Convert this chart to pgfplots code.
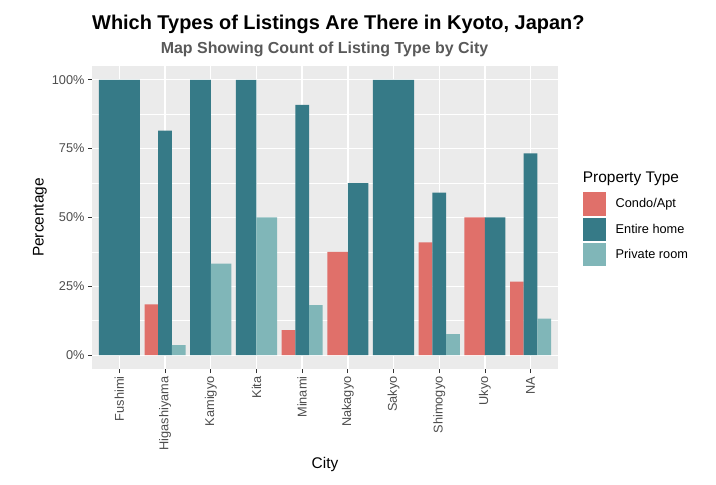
\documentclass[border=0pt]{standalone}
\usepackage{fontspec}
\setmainfont{Liberation Sans}
\usepackage{pgfplots}
\pgfplotsset{compat=1.18}
\definecolor{condo}{HTML}{E0706A}
\definecolor{entire}{HTML}{367A87}
\definecolor{private}{HTML}{80B6B8}
\definecolor{panelbg}{HTML}{EBEBEB}
\definecolor{ticktext}{HTML}{4D4D4D}
\definecolor{tickline}{HTML}{333333}
\definecolor{subgray}{HTML}{595959}

\pgfplotsset{
  sqkey/.style={legend image code/.code={%
      \fill[##1] (0bp,-11.65bp) rectangle (23.3bp,11.65bp);
      \path (33bp,0bp);}},
}

\begin{document}
\begin{tikzpicture}
\path[use as bounding box] (-92bp,-116bp) rectangle (624bp,369bp);
\begin{axis}[
    scale only axis,
    width=466bp, height=303bp,
    xmin=0.4, xmax=10.6,
    ymin=-0.05, ymax=1.05,
    axis background/.style={fill=panelbg},
    axis line style={draw=none},
    xtick={1,...,10},
    xticklabels={Fushimi,Higashiyama,Kamigyo,Kita,Minami,Nakagyo,Sakyo,Shimogyo,Ukyo,NA},
    ytick={0,0.25,0.5,0.75,1},
    yticklabels={0\%,25\%,50\%,75\%,100\%},
    minor ytick={0.125,0.375,0.625,0.875},
    xtick pos=left, ytick pos=left,
    tick align=outside,
    major tick length=4bp,
    minor tick length=0pt,
    tick style={tickline, line width=0.8bp},
    xmajorgrids, ymajorgrids, yminorgrids,
    major grid style={white, line width=1.4bp},
    minor grid style={white, line width=0.7bp},
    /pgf/number format/assume math mode=true,
    ticklabel style={font=\fontsize{12.8}{14}\selectfont, text=ticktext},
    xticklabel style={rotate=90, anchor=east},
    xlabel={City},
    ylabel={Percentage},
    every axis x label/.style={at={(axis description cs:0.5,-0.33)}, anchor=base,
      font=\fontsize{15.5}{17}\selectfont},
    every axis y label/.style={at={(axis description cs:-0.1116,0.5)}, rotate=90, anchor=center,
      font=\fontsize{15.5}{17}\selectfont},
    legend style={at={(1.053,0.583)}, anchor=north west, draw=none, fill=none,
      inner sep=0pt, outer sep=0pt, row sep=2bp,
      font=\fontsize{12.8}{14}\selectfont,
      nodes={inner sep=0pt}},
    legend cell align=left,
  ]
% Condo/Apt, three bars per city
\addplot[ybar, bar width=0.3, bar shift=-0.3, fill=condo, draw=none, sqkey]
  coordinates {(2,0.185) (5,0.0909) (8,0.410) (10,0.267)};
\addlegendentry{Condo/Apt}
% Entire home, three bars per city
\addplot[ybar, bar width=0.3, bar shift=0, fill=entire, draw=none, sqkey]
  coordinates {(2,0.815) (5,0.909) (8,0.590) (10,0.733)};
\addlegendentry{Entire home}
% Private room, three bars per city
\addplot[ybar, bar width=0.3, bar shift=0.3, fill=private, draw=none, sqkey]
  coordinates {(2,0.037) (5,0.182) (8,0.077) (10,0.133)};
\addlegendentry{Private room}
% two bars per city
\addplot[ybar, bar width=0.45, bar shift=-0.225, fill=condo, draw=none, forget plot]
  coordinates {(6,0.375) (9,0.5)};
\addplot[ybar, bar width=0.45, bar shift=0.225, fill=entire, draw=none, forget plot]
  coordinates {(6,0.625) (9,0.5)};
\addplot[ybar, bar width=0.45, bar shift=-0.225, fill=entire, draw=none, forget plot]
  coordinates {(3,1) (4,1)};
\addplot[ybar, bar width=0.45, bar shift=0.225, fill=private, draw=none, forget plot]
  coordinates {(3,0.333) (4,0.5)};
% one bar per city
\addplot[ybar, bar width=0.9, bar shift=0, fill=entire, draw=none, forget plot]
  coordinates {(1,1) (7,1)};
\end{axis}
\node[anchor=base west, inner sep=0pt, font=\fontsize{20}{24}\selectfont\bfseries]
  at (0bp,339bp) {Which Types of Listings Are There in Kyoto, Japan?};
\node[anchor=base, inner sep=0pt, text=subgray, font=\fontsize{16}{19}\selectfont\bfseries]
  at (232.5bp,315bp) {Map Showing Count of Listing Type by City};
\node[anchor=base west, inner sep=0pt, font=\fontsize{15.5}{17}\selectfont]
  at (490.7bp,186.3bp) {Property Type};
\end{tikzpicture}
\end{document}
